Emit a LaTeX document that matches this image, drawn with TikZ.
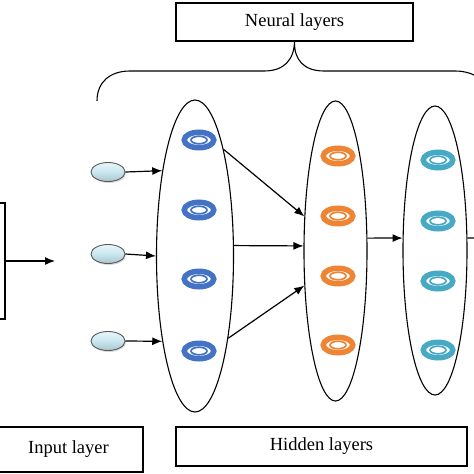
\documentclass[tikz,border=0pt]{standalone}
\usepackage{fontspec}
\setmainfont{Liberation Serif}
\usetikzlibrary{shapes.geometric,arrows.meta,shadows}
\definecolor{cblue}{HTML}{4472C4}
\definecolor{corange}{HTML}{EE8535}
\definecolor{cteal}{HTML}{48A9C5}
\definecolor{cin}{HTML}{C9E7F0}
\begin{document}
\begin{tikzpicture}[x=1pt, y=-1pt, >={Latex[length=10pt,width=8pt]},
    lab/.style={rectangle, draw, line width=1.1pt, inner sep=0pt, font=\fontsize{18.5}{22}\selectfont},
    lay/.style={ellipse, draw, line width=1.1pt, inner sep=0pt},
    inp/.style={ellipse, draw=gray!70!black, line width=0.9pt, minimum width=34pt, minimum height=19pt, inner sep=0pt,
        top color=cin!40, bottom color=cin!85!black, middle color=cin,
        drop shadow={shadow xshift=1pt, shadow yshift=-1.5pt, opacity=0.3}},
    unit/.style={ellipse, draw=#1, line width=5.5pt, minimum width=29.5pt, minimum height=15.5pt, inner sep=0pt, fill=white,
        path picture={\draw[#1, line width=1.7pt] (path picture bounding box.center) ellipse (8pt and 3.8pt);}},
    ar/.style={line width=1.2pt,->}]
    \useasboundingbox (0,0) rectangle (474,474);
    \clip (0,0) rectangle (474,474);
    \node [lab, minimum width=237pt, minimum height=38pt] (nl) at (294.5,22) {Neural layers};
    \node [lab, minimum width=291pt, minimum height=39pt] (hl) at (321.5,446.5) {Hidden layers};
    \node [lab, minimum width=149pt, minimum height=45pt] (il) at (68.5,449.5) {Input layer};
    \node [lab, minimum width=70pt, minimum height=116pt] (src) at (-30,261) {};
    \coordinate (mid) at (55,261);
    \node [lay, minimum width=77pt, minimum height=312pt] (l1) at (195,256) {};
    \node [lay, minimum width=63pt, minimum height=300pt] (l2) at (335.5,251) {};
    \node [lay, minimum width=64pt, minimum height=289pt] (l3) at (435,250.5) {};
    \coordinate (out) at (480,238);
    \node [inp] (in1) at (108,172) {};
    \node [inp] (in2) at (108,254) {};
    \node [inp] (in3) at (108,341) {};
    \foreach \y [count=\i] in {140,210,279,351}
        \node [unit=cblue] (a\i) at (199,\y) {};
    \foreach \y [count=\i] in {156,216,276,345}
        \node [unit=corange] (b\i) at (338,\y) {};
    \foreach \y [count=\i] in {160,221,281,350}
        \node [unit=cteal] (c\i) at (438,\y) {};
    \draw [line width=1.1pt] (97,101) .. controls (97,82) and (110,71) .. (130,71) -- (264,71)
        .. controls (284,71) and (294,60) .. (nl.south)
        .. controls (294,60) and (304,71) .. (324,71) -- (455,71)
        .. controls (475,71) and (490,82) .. (490,101);
    \draw [ar] (src) -- (mid);
    \draw [ar] (in1.east) -- (l1.111);
    \draw [ar] (in2.east) -- (l1.west);
    \draw [ar] (in3.east) -- (l1.-111);
    \draw [ar] (l1.75) -- (l2.132);
    \draw [ar] (l1.15) -- (l2.171);
    \draw [ar] (l1.-68) -- (l2.-132);
    \draw [ar] (l2.22) -- (l3.159);
    \draw [line width=1.2pt] (l3.21) -- (out);
\end{tikzpicture}
\end{document}
